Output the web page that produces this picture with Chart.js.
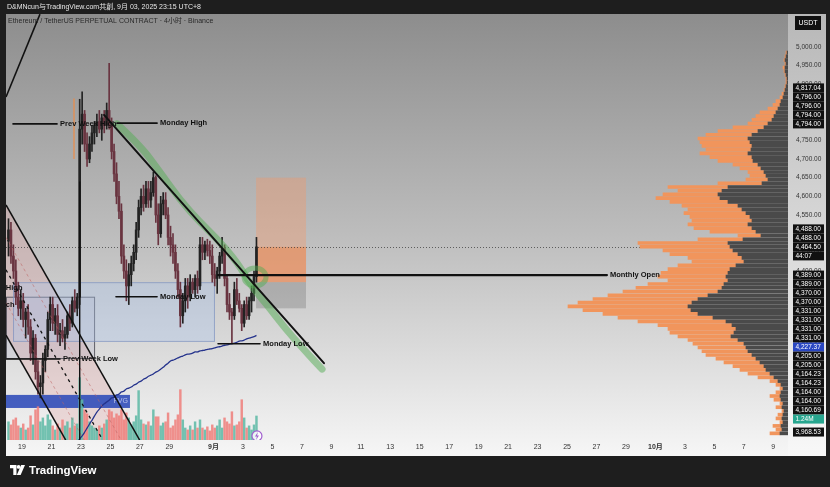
<!DOCTYPE html>
<html>
<head>
<meta charset="utf-8">
<script src="https://cdn.jsdelivr.net/npm/chart.js@4.4.1/dist/chart.umd.min.js"></script>
<style>
  html, body { margin: 0; padding: 0; background: #1e1e1e; width: 830px; height: 487px; overflow: hidden; }
  canvas { position: absolute; left: 0; top: 0; }
  #hdr { position: absolute; left: 7px; top: 1px; font: 7px "Liberation Sans", "Noto Sans CJK SC", sans-serif; line-height: 11px; color: #e6e6e6; white-space: nowrap; }
  #logo { position: absolute; left: 10px; top: 464px; display: flex; align-items: center; gap: 4px; color: #fff; font: bold 11.5px "Liberation Sans", sans-serif; }
</style>
</head>
<body>
<canvas id="c" width="830" height="487" style="width:830px;height:487px"></canvas>
<div id="hdr">D&amp;MNcun与TradingView.com共創, 9月 03, 2025 23:15 UTC+8</div>
<div id="logo">
  <svg width="15" height="10" viewBox="0 0 15 10"><path d="M0 0h6.5v10h-3.2v-6.8H0z" fill="#fff"/><circle cx="8.6" cy="1.9" r="1.9" fill="#fff"/><path d="M11.2 0h3.8L10.6 10H6.8z" fill="#fff"/></svg>
  <span>TradingView</span>
</div>
<script>
// ETH/USDT perpetual, 4h bars. Day axis counts days from Aug 19 00:00 (UTC+8).
const startDay = -1;        // first bar opens Aug 18 00:00
const barsPerDay = 6;

const opens = [4480,4510,4440,4400,4330,4300, 4320,4270,4290,4250,4180,4220, 4130,4090,4100,4160,4190,4270,
  4310,4260,4280,4230,4240,4220, 4230,4280,4260,4320,4300,4330, 4780,4820,4740,4700,4740,4770,
  4790,4800,4780,4810,4790,4830, 4790,4720,4660,4600,4560,4440, 4400,4360,4390,4420,4450,4510,
  4570,4600,4580,4620,4590,4610, 4650,4550,4500,4580,4590,4550, 4490,4470,4450,4400,4350,4280,
  4320,4360,4330,4370,4350,4380, 4360,4470,4450,4470,4455,4440, 4390,4380,4400,4440,4460,4380,
  4310,4290,4280,4350,4320,4300, 4260,4310,4280,4320,4340,4385];
const highs = [4540,4530,4470,4430,4370,4350, 4340,4300,4310,4270,4240,4230, 4160,4120,4180,4200,4290,4330,
  4330,4300,4310,4260,4270,4250, 4290,4310,4330,4350,4340,4860, 4880,4830,4770,4760,4790,4800,
  4820,4830,4820,4830,4850,4956, 4810,4740,4690,4640,4580,4470, 4430,4420,4440,4470,4530,4590,
  4620,4630,4640,4640,4640,4665, 4655,4580,4600,4610,4610,4570, 4520,4500,4470,4420,4370,4340,
  4380,4380,4390,4380,4390,4400, 4490,4490,4480,4485,4480,4470, 4420,4410,4450,4490,4470,4390,
  4340,4300,4370,4380,4340,4310, 4320,4330,4330,4360,4400,4490];
const lows = [4440,4420,4380,4310,4280,4270, 4250,4220,4230,4160,4150,4110, 4070,4060,4070,4130,4170,4240,
  4240,4230,4210,4200,4210,4190, 4220,4240,4250,4290,4280,4310, 4740,4720,4680,4690,4720,4740,
  4760,4770,4750,4770,4780,4780, 4700,4640,4580,4540,4420,4380, 4320,4310,4360,4400,4430,4490,
  4550,4560,4570,4570,4570,4600, 4530,4470,4490,4550,4540,4470, 4440,4420,4380,4330,4250,4260,
  4290,4300,4320,4340,4330,4340, 4350,4430,4430,4440,4420,4370, 4360,4340,4380,4420,4360,4290,
  4270,4205,4270,4310,4290,4240, 4250,4270,4270,4290,4320,4370];
const closes = [4510,4440,4400,4330,4300,4320, 4270,4290,4250,4180,4220,4130, 4090,4100,4160,4190,4270,4310,
  4260,4280,4230,4240,4220,4230, 4280,4260,4320,4300,4330,4780, 4820,4740,4700,4740,4770,4790,
  4800,4780,4810,4790,4830,4790, 4720,4660,4600,4560,4440,4400, 4360,4390,4420,4450,4510,4570,
  4600,4580,4620,4590,4610,4650, 4550,4500,4580,4590,4550,4490, 4470,4450,4400,4350,4280,4320,
  4360,4330,4370,4350,4380,4360, 4470,4450,4470,4455,4440,4390, 4380,4400,4440,4460,4380,4310,
  4290,4280,4350,4320,4300,4260, 4310,4280,4320,4340,4385,4464.5];
// volume per bar, thousands of ETH
const volumesK = [940,780,1040,1140,730,620, 830,520,620,1250,780,1560, 1720,940,1140,730,1300,1040,
  730,520,830,620,1040,730, 940,620,1140,730,830,3220, 2080,1560,1350,940,730,620,
  520,730,620,830,1040,1560, 1460,1140,1350,1250,1560,1040, 1400,1140,780,940,1250,2550,
  1040,830,780,940,730,1560, 1200,1200,730,880,940,1400, 620,730,1040,1300,2600,1040,
  620,520,730,520,940,620, 1040,620,520,680,470,780, 620,730,1040,620,1140,940,
  830,1460,730,780,940,2080, 1140,620,730,520,780,1240];
// moving average, from bar 28 onward
const maStart = 28;
const maValues = [3942,3950,3958,3968,3979,3990,4000,4011,4022,4030,4038,4044,4049,4054,4060,4062,4068,4070,
  4076,4078,4084,4086,4089,4094,4097,4102,4105,4110,4113,4118,4121,4124,4129,4132,4137,4142,4148,4153,
  4159,4161,4164,4167,4170,4172,4175,4177,4178,4180,4183,4183,4186,4187,4188,4190,4191,4192,4194,4196,
  4197,4199,4201,4202,4204,4205,4207,4209,4212,4213,4215,4218,4220,4222,4224,4227.37];

// visible-range volume profile (10 USDT rows)
const vpPrices = [4985,4975,4965,4955,4945,4935,4925,4915,4905,4895,4885,4875,4865,4855,4845,4835,4825,4815,4805,4795,
  4785,4775,4765,4755,4745,4735,4725,4715,4705,4695,4685,4675,4665,4655,4645,4635,4625,4615,4605,4595,
  4585,4575,4565,4555,4545,4535,4525,4515,4505,4495,4485,4475,4465,4455,4445,4435,4425,4415,4405,4395,
  4385,4375,4365,4355,4345,4335,4325,4315,4305,4295,4285,4275,4265,4255,4245,4235,4225,4215,4205,4195,
  4185,4175,4165,4155,4145,4135,4125,4115,4105,4095,4085,4075,4065,4055,4045,4035,4025,4015,4005,3995,
  3985,3975,3965];
const vpTotal = [2,3,4,3,5,4,3,2,2,3, 4,6,8,12,15,20,28,32,36,40, 55,70,82,90,88,86,82,88,78,70,
  55,48,40,38,42,70,120,110,125,132, 118,106,100,104,98,96,100,94,78,50, 90,150,148,125,118,100,96,110,120,127,
  130,120,140,152,165,180,195,210,220,205, 185,170,150,130,120,118,110,100,95,90, 86,82,72,64,55,48,40,30,18,12,
  8,12,18,14,8,12,6,10,12,8, 15,12,18];
const vpInner = [1,2,3,2,3,3,2,1,1,2, 3,4,5,7,8,10,12,14,16,20, 24,30,36,40,38,36,37,40,36,35,
  30,27,24,22,20,26,60,66,70,68, 60,50,46,42,38,36,40,36,32,27, 45,60,58,55,50,46,44,52,58,60,
  62,60,64,66,70,80,90,96,100,97, 90,75,62,56,52,54,57,50,44,42, 40,36,32,28,24,22,18,14,10,7,
  5,7,8,7,5,6,4,5,6,5, 7,6,8];

// axis ticks
const dayTicks = [0,2,4,6,8,10,13,15,17,19,21,23,25,27,29,31,33,35,37,39,41,43,45,47,49,51];
const dayTickLabels = ['19','21','23','25','27','29','9月','3','5','7','9','11','13','15','17','19','21','23','25','27','29','10月','3','5','7','9'];
const monthStartDays = [13, 43];
const priceTicks = [5000,4950,4900,4850,4800,4750,4700,4650,4600,4550,4500,4450,4400,4350,4300,4250,4200,4150,4100,4050,4000];

// price-axis tags for drawn levels
const tagPrices = [4817.04,4796,4796,4794,4794,4488,4488,4389,4389,4370,4370,4331,4331,4331,4331,4205,4205,4164.23,4164.23,4164,4164,4160.69,3968.53];
const barCountdown = '44:07';

// chart drawings, in (day, price)
const outerLine = [[-1.086, 4866], [1.22, 5088]];
const channelUpper = [[-1.086, 4577], [7.99, 3947]];
const channelLower = [[-1.086, 4228], [2.97, 3947]];
const channelMid = [[-1.086, 4403], [5.48, 3947]];
const channelQuarter = [[-1.086, 4490], [6.73, 3947]];
const channelLowQuarter = [[-1.086, 4315], [4.22, 3947]];
const trendLine = [[5.57, 4818], [20.50, 4153]];
const greenPath = [[6.45,4794],[8.01,4737],[9.37,4665],[10.73,4590],[12.08,4531],[13.31,4483],[14.26,4440],
  [14.94,4403],[15.61,4357],[16.70,4306],[17.85,4247],[19.21,4186],[20.37,4137]];
const greenLoop = [15.82, 4384];
const levelLines = [
  { from: -0.61, to: 2.38, price: 4794, text: 'Prev Week High' },
  { from: 6.45, to: 9.17, price: 4796, text: 'Monday High' },
  { from: 6.38, to: 9.17, price: 4331, text: 'Monday Low' },
  { from: -1.09, to: 2.58, price: 4164, text: 'Prev Week Low' },
  { from: 13.31, to: 16.16, price: 4205, text: 'Monday Low' },
  { from: 13.31, to: 39.71, price: 4389, text: 'Monthly Open', width: 2.2 }
];
const edgeLabels = [{ day: -1.1, price: 4354, text: 'High' }, { day: -1.1, price: 4309, text: 'ch' }];
const rangeBox = { from: -1.086, to: 4.96, top: 4331, bottom: 4164 };
const blueBox = { from: -0.61, to: 13.1, top: 4370, bottom: 4210 };
const fvgBar = { from: -1.086, to: 7.33, top: 4068, bottom: 4033, text: 'FVG' };
const position = { from: 15.89, to: 19.28, target: 4650, entry: 4370, stop: 4300 };
const eventLine = { day: 3.917, top: 4640, bottom: 3947 };
const orangeMark = { day: 3.53, top: 4862, bottom: 4700 };
const alertIcon = { day: 15.95, price: 3958 };

const FONT = '"Liberation Sans", "Noto Sans CJK SC", Arial, sans-serif';
const UP = '#222222', DN = '#693440';
const fmt = v => v.toLocaleString('en-US', { minimumFractionDigits: 2, maximumFractionDigits: 2 });

const times = opens.map((_, k) => startDay + (k + 0.5) / barsPerDay);
const isUp = opens.map((o, k) => closes[k] >= o);
const candleCols = isUp.map(u => u ? UP : DN);

function P(c, pt) { return [c.scales.x.getPixelForValue(pt[0]), c.scales.y.getPixelForValue(pt[1])]; }
function line(g, c, pts, color, width, dash) {
  g.save(); g.strokeStyle = color; g.lineWidth = width; g.setLineDash(dash || []);
  g.beginPath();
  pts.forEach((pt, i) => { const [x, y] = P(c, pt); i ? g.lineTo(x, y) : g.moveTo(x, y); });
  g.stroke(); g.restore();
}
function box(g, c, d0, d1, p0, p1, fill, stroke) {
  const x0 = c.scales.x.getPixelForValue(d0), x1 = c.scales.x.getPixelForValue(d1);
  const y0 = c.scales.y.getPixelForValue(p0), y1 = c.scales.y.getPixelForValue(p1);
  g.fillStyle = fill; g.fillRect(x0, y0, x1 - x0, y1 - y0);
  if (stroke) { g.strokeStyle = stroke; g.lineWidth = 1; g.strokeRect(x0 + 0.5, y0 + 0.5, x1 - x0 - 1, y1 - y0 - 1); }
}

const drawings = {
  id: 'drawings',
  beforeDraw(c) {
    const g = c.ctx, a = c.chartArea;
    const right = c.scales.y.right, bottom = c.scales.x.bottom;
    g.save();
    g.fillStyle = '#1e1e1e'; g.fillRect(0, 0, c.width, c.height);
    const gr = g.createLinearGradient(0, a.top, 0, bottom);
    gr.addColorStop(0, '#8d8d8d'); gr.addColorStop(0.5, '#bdbdbd'); gr.addColorStop(1, '#f6f6f6');
    g.fillStyle = gr; g.fillRect(a.left, a.top, right - a.left, bottom - a.top);
    const ga = g.createLinearGradient(0, a.top, 0, bottom);
    ga.addColorStop(0, '#b8b8b8'); ga.addColorStop(1, '#f8f8f8');
    g.fillStyle = ga; g.fillRect(a.right, a.top, right - a.right, bottom - a.top);
    g.restore();
  },
  beforeDatasetsDraw(c) {
    const g = c.ctx, a = c.chartArea;
    g.save();
    g.beginPath(); g.rect(a.left, a.top, a.right - a.left, a.bottom - a.top); g.clip();
    // descending channel fill
    const poly = [channelUpper[0], channelUpper[1], channelLower[1], channelLower[0]].map(p => P(c, p));
    g.fillStyle = 'rgba(226,158,158,0.28)';
    g.beginPath(); poly.forEach(([x, y], i) => i ? g.lineTo(x, y) : g.moveTo(x, y)); g.closePath(); g.fill();
    box(g, c, rangeBox.from, rangeBox.to, rangeBox.top, rangeBox.bottom, 'rgba(150,150,190,0.14)', 'rgba(60,60,70,0.75)');
    box(g, c, blueBox.from, blueBox.to, blueBox.top, blueBox.bottom, 'rgba(172,196,236,0.36)', 'rgba(110,130,180,0.55)');
    // position tool
    const last = closes[closes.length - 1];
    box(g, c, position.from, position.to, position.target, position.entry, 'rgba(246,150,100,0.36)');
    box(g, c, position.from, position.to, last, position.entry, 'rgba(240,125,60,0.42)');
    box(g, c, position.from, position.to, position.entry, position.stop, 'rgba(110,110,110,0.32)');
    // fvg block
    box(g, c, fvgBar.from, fvgBar.to, fvgBar.top, fvgBar.bottom, 'rgba(44,74,184,0.88)');
    const [fx, fy] = P(c, [fvgBar.to, (fvgBar.top + fvgBar.bottom) / 2]);
    g.fillStyle = 'rgba(235,235,255,0.7)'; g.font = '7px ' + FONT; g.textAlign = 'right'; g.textBaseline = 'middle';
    g.fillText(fvgBar.text, fx - 2, fy);
    // last price line
    const ly = Math.round(c.scales.y.getPixelForValue(last)) + 0.5;
    g.strokeStyle = 'rgba(60,60,60,0.75)'; g.lineWidth = 1; g.setLineDash([1, 2]);
    g.beginPath(); g.moveTo(a.left, ly); g.lineTo(a.right, ly); g.stroke();
    g.restore();
  },
  afterDatasetsDraw(c) {
    const g = c.ctx, a = c.chartArea;
    g.save();
    g.beginPath(); g.rect(a.left, a.top, a.right - a.left, a.bottom - a.top); g.clip();
    line(g, c, outerLine, '#111', 1.6);
    line(g, c, channelUpper, '#111', 1.5);
    line(g, c, channelLower, '#111', 1.5);
    line(g, c, channelQuarter, 'rgba(190,100,100,0.55)', 1, [3, 3]);
    line(g, c, channelLowQuarter, 'rgba(190,100,100,0.55)', 1, [3, 3]);
    line(g, c, channelMid, '#111', 1.3, [3, 4]);
    line(g, c, [[eventLine.day, eventLine.top], [eventLine.day, eventLine.bottom]], '#111', 1.4);
    line(g, c, [[orangeMark.day, orangeMark.top], [orangeMark.day, orangeMark.bottom]], 'rgba(236,140,70,0.85)', 1.4);
    // green highlighter
    const gp = greenPath.map(p => P(c, p));
    g.strokeStyle = 'rgba(84,172,84,0.5)'; g.lineWidth = 7; g.lineCap = 'round'; g.lineJoin = 'round';
    g.beginPath(); g.moveTo(gp[0][0], gp[0][1]);
    for (let i = 1; i < gp.length - 1; i++) {
      g.quadraticCurveTo(gp[i][0], gp[i][1], (gp[i][0] + gp[i + 1][0]) / 2, (gp[i][1] + gp[i + 1][1]) / 2);
    }
    g.lineTo(gp[gp.length - 1][0], gp[gp.length - 1][1]); g.stroke();
    const [cx, cy] = P(c, greenLoop);
    g.lineWidth = 5; g.beginPath(); g.ellipse(cx, cy, 11, 9, 0, 0, Math.PI * 2); g.stroke();
    line(g, c, trendLine, '#111', 2);
    // level lines with labels
    g.font = 'bold 7.5px ' + FONT; g.textBaseline = 'middle'; g.textAlign = 'left'; g.fillStyle = '#111';
    levelLines.forEach(l => {
      line(g, c, [[l.from, l.price], [l.to, l.price]], '#111', l.width || 1.6);
      const [x, y] = P(c, [l.to, l.price]);
      g.fillText(l.text, x + 3, y);
    });
    edgeLabels.forEach(l => { const [x, y] = P(c, [l.day, l.price]); g.fillText(l.text, x, y); });
    // alert marker
    const [ax, ay] = P(c, [alertIcon.day, alertIcon.price]);
    g.fillStyle = 'rgba(255,255,255,0.85)'; g.strokeStyle = '#a15fcf'; g.lineWidth = 1.2;
    g.beginPath(); g.arc(ax, ay, 5, 0, Math.PI * 2); g.fill(); g.stroke();
    g.fillStyle = '#a15fcf';
    g.beginPath(); g.moveTo(ax + 1, ay - 4); g.lineTo(ax - 2, ay + 0.5); g.lineTo(ax, ay + 0.5); g.lineTo(ax - 1, ay + 4);
    g.lineTo(ax + 2, ay - 0.5); g.lineTo(ax, ay - 0.5); g.closePath(); g.fill();
    g.restore();
  },
  afterDraw(c) {
    const g = c.ctx, a = c.chartArea, ys = c.scales.y;
    g.save();
    // symbol title
    g.font = '7px ' + FONT; g.fillStyle = '#2a2a2a'; g.textBaseline = 'middle'; g.textAlign = 'left';
    g.fillText('Ethereum / TetherUS PERPETUAL CONTRACT · 4小时 · Binance', a.left + 2, a.top + 7);
    // price-axis tags, stacked away from the last price
    const h = 9, x0 = a.right + 5, w = 31;
    const last = closes[closes.length - 1];
    const curY = ys.getPixelForValue(last);
    const above = [], below = [];
    tagPrices.forEach(v => {
      const y = ys.getPixelForValue(v);
      (y < curY ? above : below).push({ y, text: fmt(v), bg: '#101010' });
    });
    below.push({ y: ys.getPixelForValue(maValues[maValues.length - 1]), text: fmt(maValues[maValues.length - 1]), bg: '#2a47c2' });
    const lastVol = volumesK[volumesK.length - 1];
    below.push({ y: c.scales.yVol.getPixelForValue(lastVol), text: (lastVol / 1000).toFixed(2) + 'M', bg: '#27a68f' });
    above.sort((p, q) => q.y - p.y); below.sort((p, q) => p.y - q.y);
    let prev = curY;
    above.forEach(t => { t.y = Math.min(t.y, prev - h); prev = t.y; });
    prev = curY + h;
    below.forEach(t => { t.y = Math.max(t.y, prev + h); prev = t.y; });
    const tags = [...above, { y: curY, text: fmt(last), bg: '#101010' }, { y: curY + h, text: barCountdown, bg: '#101010' }, ...below];
    g.font = '6.5px ' + FONT; g.textBaseline = 'middle';
    tags.forEach(t => {
      g.fillStyle = t.bg; g.fillRect(x0, t.y - h / 2, w, h);
      g.fillStyle = '#fff'; g.fillText(t.text, x0 + 2.5, t.y + 0.5);
    });
    // currency badge
    g.font = '7px ' + FONT;
    g.fillStyle = '#111'; g.fillRect(a.right + 7, a.top + 2, 26, 14);
    g.fillStyle = '#fff'; g.textAlign = 'center'; g.fillText('USDT', a.right + 20, a.top + 9.5);
    g.restore();
  }
};

new Chart(document.getElementById('c'), {
  type: 'bar',
  data: {
    datasets: [
      { type: 'bar', label: 'body', data: times.map((t, k) => ({ x: t, y: [opens[k], closes[k]] })),
        backgroundColor: candleCols, barThickness: 2, grouped: false, xAxisID: 'x', yAxisID: 'y', order: 1 },
      { type: 'bar', label: 'wick', data: times.map((t, k) => ({ x: t, y: [lows[k], highs[k]] })),
        backgroundColor: candleCols, barThickness: 1, grouped: false, xAxisID: 'x', yAxisID: 'y', order: 2 },
      { type: 'line', label: 'MA', data: maValues.map((v, i) => ({ x: times[maStart + i], y: v })),
        borderColor: '#25338c', borderWidth: 1.3, pointRadius: 0, tension: 0.35, xAxisID: 'x', yAxisID: 'y', order: 3 },
      { type: 'bar', label: 'profile-inner', indexAxis: 'y', data: vpPrices.map((p, i) => ({ y: p, x: [0, vpInner[i]] })),
        backgroundColor: '#4a4a4a', barThickness: 3, grouped: false, xAxisID: 'xVP', yAxisID: 'y', order: 4 },
      { type: 'bar', label: 'profile-outer', indexAxis: 'y', data: vpPrices.map((p, i) => ({ y: p, x: [vpInner[i], vpTotal[i]] })),
        backgroundColor: '#f1955c', barThickness: 3, grouped: false, xAxisID: 'xVP', yAxisID: 'y', order: 4 },
      { type: 'bar', label: 'volume', data: times.map((t, k) => ({ x: t, y: volumesK[k] })),
        backgroundColor: isUp.map(u => u ? 'rgba(92,184,164,0.85)' : 'rgba(238,126,122,0.85)'),
        barThickness: 1.8, grouped: false, xAxisID: 'x', yAxisID: 'yVol', order: 6 }
    ]
  },
  options: {
    responsive: false, animation: false, devicePixelRatio: 1, events: [],
    layout: { padding: { left: 6, top: 14, right: 4, bottom: 31 } },
    plugins: { legend: { display: false }, tooltip: { enabled: false } },
    scales: {
      x: {
        type: 'linear', axis: 'x', position: 'bottom', min: -1.086, max: 52.0, offset: false,
        grid: { display: false, drawTicks: false }, border: { display: false },
        afterBuildTicks: s => { s.ticks = dayTicks.map(v => ({ value: v })); },
        afterFit: s => { s.height = 16; },
        ticks: {
          autoSkip: false, maxRotation: 0, padding: 3, color: '#333',
          font: ctx => ({ family: FONT, size: 7, weight: ctx.tick && monthStartDays.includes(ctx.tick.value) ? 'bold' : 'normal' }),
          callback: v => dayTickLabels[dayTicks.indexOf(v)]
        }
      },
      y: {
        type: 'linear', axis: 'y', position: 'right', min: 3947.2, max: 5088.4, offset: false, beginAtZero: false,
        grid: { display: false, drawTicks: false }, border: { display: false },
        afterBuildTicks: s => { s.ticks = priceTicks.map(v => ({ value: v })); },
        afterFit: s => { s.width = 38; },
        ticks: { padding: 8, color: '#333', font: { family: FONT, size: 6.5 }, callback: v => fmt(v) }
      },
      yVol: { type: 'linear', axis: 'y', display: false, min: 0, max: 22000, offset: false },
      xVP: { type: 'linear', axis: 'x', display: false, reverse: true, min: 0, max: 782, offset: false }
    }
  },
  plugins: [drawings]
});
</script>
</body>
</html>
